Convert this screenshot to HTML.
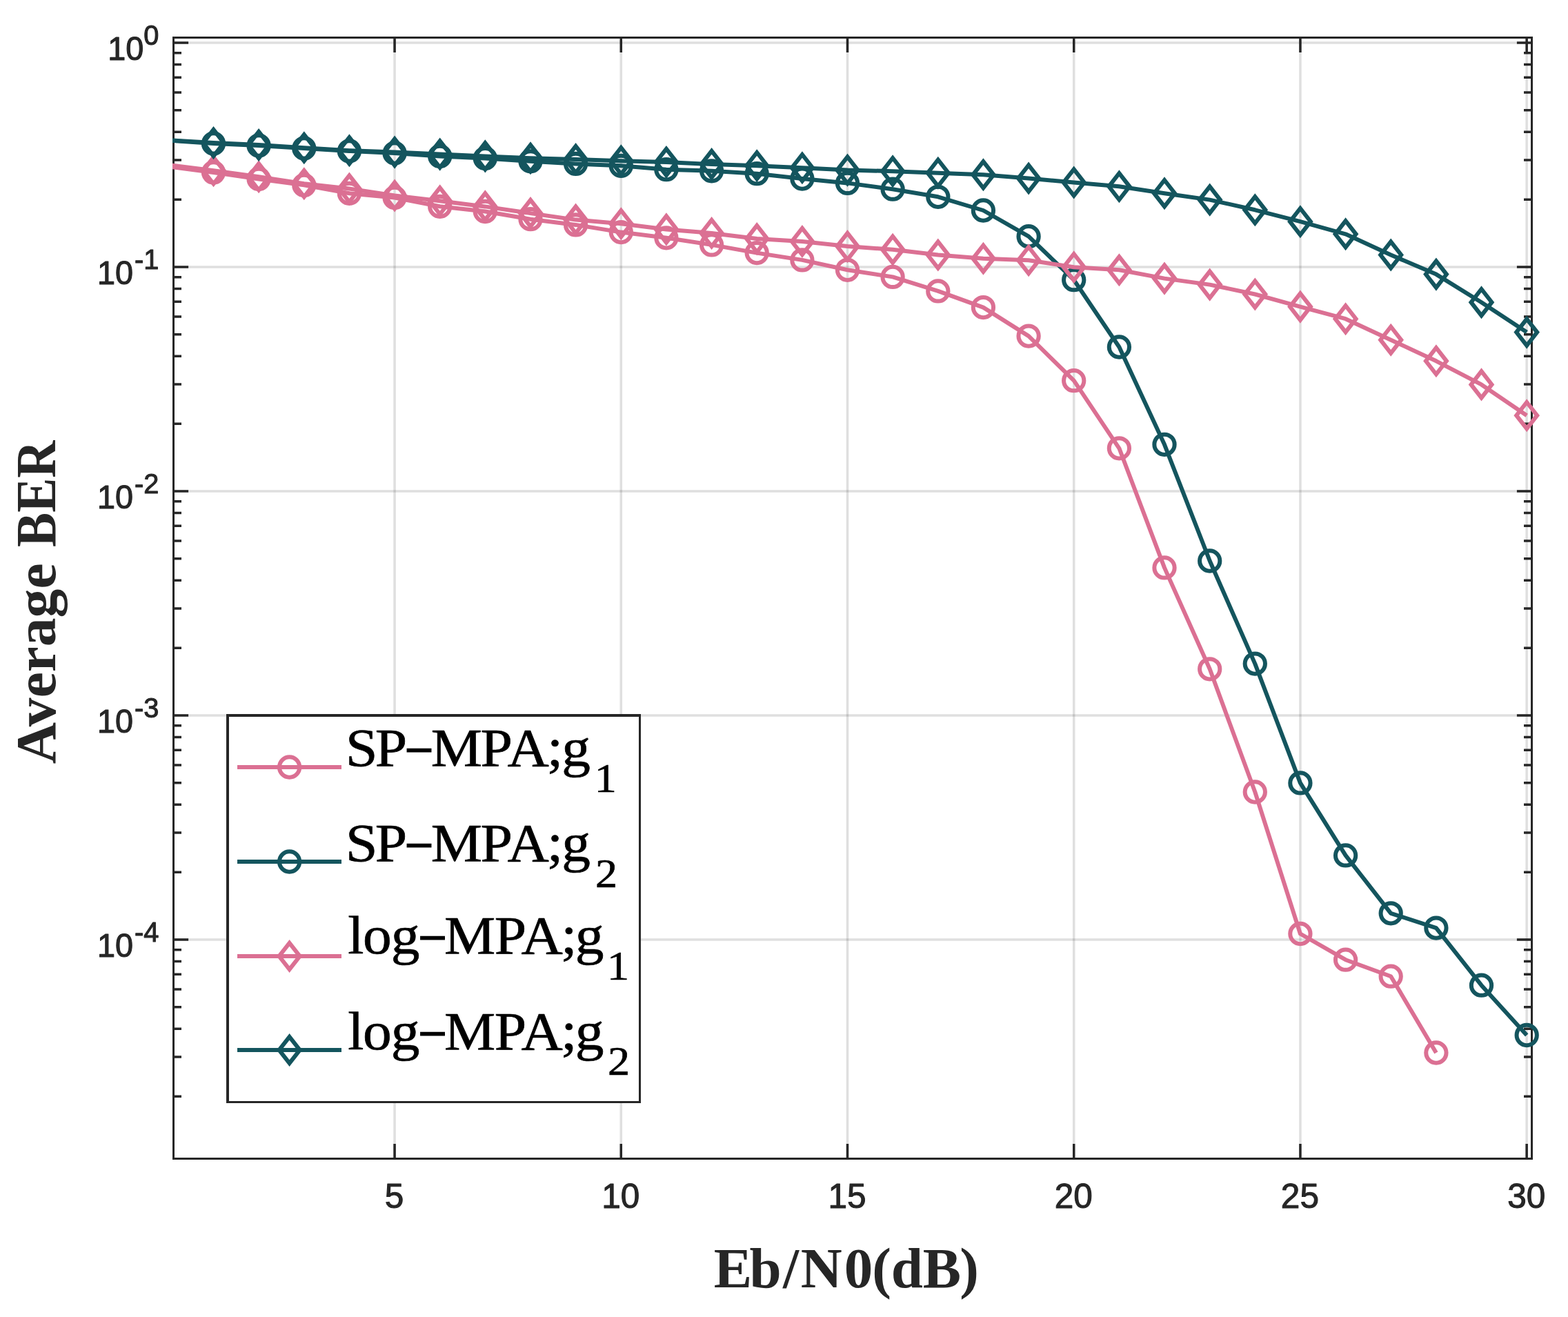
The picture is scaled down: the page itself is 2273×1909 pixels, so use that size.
<!DOCTYPE html>
<html lang="en"><head><meta charset="utf-8"><title>Average BER vs Eb/N0(dB)</title>
<style>html,body{margin:0;padding:0;background:#fff}body{width:2273px;height:1909px;overflow:hidden}svg{display:block}.tk{font-family:"Liberation Sans",Arial,Helvetica,sans-serif;fill:#262626}.lb{font-family:"Liberation Serif","Times New Roman",serif;font-weight:bold;fill:#262626}.lg{font-family:"Liberation Serif","Times New Roman",serif;fill:#000}</style></head><body>
<svg width="2273" height="1909" viewBox="0 0 2273 1909">
<defs><clipPath id="axclip"><rect x="250.0" y="53.0" width="1972.0" height="1628.0"/></clipPath></defs>
<rect width="2273" height="1909" fill="#fff"/>
<g stroke="#262626" stroke-opacity="0.15" stroke-width="3.5" fill="none">
<path d="M572.06 54.50V1679.50"/>
<path d="M900.28 54.50V1679.50"/>
<path d="M1228.50 54.50V1679.50"/>
<path d="M1556.72 54.50V1679.50"/>
<path d="M1884.94 54.50V1679.50"/>
<path d="M2213.16 54.50V1679.50"/>
<path d="M251.50 62.00H2220.50"/>
<path d="M251.50 387.00H2220.50"/>
<path d="M251.50 712.00H2220.50"/>
<path d="M251.50 1037.00H2220.50"/>
<path d="M251.50 1362.00H2220.50"/>
</g>
<rect x="251.5" y="54.5" width="1969.00" height="1625.00" fill="none" stroke="#262626" stroke-width="3.0"/>
<g stroke="#262626" stroke-width="3.5" fill="none">
<path d="M572.06 1679.50v-21.60 M572.06 54.50v21.60"/>
<path d="M900.28 1679.50v-21.60 M900.28 54.50v21.60"/>
<path d="M1228.50 1679.50v-21.60 M1228.50 54.50v21.60"/>
<path d="M1556.72 1679.50v-21.60 M1556.72 54.50v21.60"/>
<path d="M1884.94 1679.50v-21.60 M1884.94 54.50v21.60"/>
<path d="M2213.16 1679.50v-21.60 M2213.16 54.50v21.60"/>
<path d="M251.50 62.00h21.60 M2220.50 62.00h-21.60"/>
<path d="M251.50 387.00h21.60 M2220.50 387.00h-21.60"/>
<path d="M251.50 712.00h21.60 M2220.50 712.00h-21.60"/>
<path d="M251.50 1037.00h21.60 M2220.50 1037.00h-21.60"/>
<path d="M251.50 1362.00h21.60 M2220.50 1362.00h-21.60"/>
<path d="M251.50 289.17h11.50 M2220.50 289.17h-11.50"/>
<path d="M251.50 231.94h11.50 M2220.50 231.94h-11.50"/>
<path d="M251.50 191.33h11.50 M2220.50 191.33h-11.50"/>
<path d="M251.50 159.83h11.50 M2220.50 159.83h-11.50"/>
<path d="M251.50 134.10h11.50 M2220.50 134.10h-11.50"/>
<path d="M251.50 112.34h11.50 M2220.50 112.34h-11.50"/>
<path d="M251.50 93.50h11.50 M2220.50 93.50h-11.50"/>
<path d="M251.50 76.87h11.50 M2220.50 76.87h-11.50"/>
<path d="M251.50 614.17h11.50 M2220.50 614.17h-11.50"/>
<path d="M251.50 556.94h11.50 M2220.50 556.94h-11.50"/>
<path d="M251.50 516.33h11.50 M2220.50 516.33h-11.50"/>
<path d="M251.50 484.83h11.50 M2220.50 484.83h-11.50"/>
<path d="M251.50 459.10h11.50 M2220.50 459.10h-11.50"/>
<path d="M251.50 437.34h11.50 M2220.50 437.34h-11.50"/>
<path d="M251.50 418.50h11.50 M2220.50 418.50h-11.50"/>
<path d="M251.50 401.87h11.50 M2220.50 401.87h-11.50"/>
<path d="M251.50 939.17h11.50 M2220.50 939.17h-11.50"/>
<path d="M251.50 881.94h11.50 M2220.50 881.94h-11.50"/>
<path d="M251.50 841.33h11.50 M2220.50 841.33h-11.50"/>
<path d="M251.50 809.83h11.50 M2220.50 809.83h-11.50"/>
<path d="M251.50 784.10h11.50 M2220.50 784.10h-11.50"/>
<path d="M251.50 762.34h11.50 M2220.50 762.34h-11.50"/>
<path d="M251.50 743.50h11.50 M2220.50 743.50h-11.50"/>
<path d="M251.50 726.87h11.50 M2220.50 726.87h-11.50"/>
<path d="M251.50 1264.17h11.50 M2220.50 1264.17h-11.50"/>
<path d="M251.50 1206.94h11.50 M2220.50 1206.94h-11.50"/>
<path d="M251.50 1166.33h11.50 M2220.50 1166.33h-11.50"/>
<path d="M251.50 1134.83h11.50 M2220.50 1134.83h-11.50"/>
<path d="M251.50 1109.10h11.50 M2220.50 1109.10h-11.50"/>
<path d="M251.50 1087.34h11.50 M2220.50 1087.34h-11.50"/>
<path d="M251.50 1068.50h11.50 M2220.50 1068.50h-11.50"/>
<path d="M251.50 1051.87h11.50 M2220.50 1051.87h-11.50"/>
<path d="M251.50 1589.17h11.50 M2220.50 1589.17h-11.50"/>
<path d="M251.50 1531.94h11.50 M2220.50 1531.94h-11.50"/>
<path d="M251.50 1491.33h11.50 M2220.50 1491.33h-11.50"/>
<path d="M251.50 1459.83h11.50 M2220.50 1459.83h-11.50"/>
<path d="M251.50 1434.10h11.50 M2220.50 1434.10h-11.50"/>
<path d="M251.50 1412.34h11.50 M2220.50 1412.34h-11.50"/>
<path d="M251.50 1393.50h11.50 M2220.50 1393.50h-11.50"/>
<path d="M251.50 1376.87h11.50 M2220.50 1376.87h-11.50"/>
</g>
<path d="M243.8 241.4 L309.5 249.9 L375.1 259.5 L440.8 268.4 L506.4 280.3 L572.1 286.5 L637.7 299.3 L703.3 306.5 L769.0 317.7 L834.6 325.9 L900.3 336.6 L965.9 344.8 L1031.6 354.9 L1097.2 366.6 L1162.9 376.9 L1228.5 391.3 L1294.1 401.4 L1359.8 421.9 L1425.4 445.6 L1491.1 487.1 L1556.7 551.7 L1622.4 649.8 L1688.0 822.9 L1753.7 969.8 L1819.3 1148.0 L1884.9 1353.5 L1950.6 1391.2 L2016.2 1415.2 L2081.9 1526.0" fill="none" stroke="#db7093" stroke-width="6.0" stroke-linejoin="round" clip-path="url(#axclip)"/>
<g fill="none" stroke="#db7093" stroke-width="6.0" stroke-miterlimit="10">
<circle cx="309.5" cy="249.9" r="14.65"/>
<circle cx="375.1" cy="259.5" r="14.65"/>
<circle cx="440.8" cy="268.4" r="14.65"/>
<circle cx="506.4" cy="280.3" r="14.65"/>
<circle cx="572.1" cy="286.5" r="14.65"/>
<circle cx="637.7" cy="299.3" r="14.65"/>
<circle cx="703.3" cy="306.5" r="14.65"/>
<circle cx="769.0" cy="317.7" r="14.65"/>
<circle cx="834.6" cy="325.9" r="14.65"/>
<circle cx="900.3" cy="336.6" r="14.65"/>
<circle cx="965.9" cy="344.8" r="14.65"/>
<circle cx="1031.6" cy="354.9" r="14.65"/>
<circle cx="1097.2" cy="366.6" r="14.65"/>
<circle cx="1162.9" cy="376.9" r="14.65"/>
<circle cx="1228.5" cy="391.3" r="14.65"/>
<circle cx="1294.1" cy="401.4" r="14.65"/>
<circle cx="1359.8" cy="421.9" r="14.65"/>
<circle cx="1425.4" cy="445.6" r="14.65"/>
<circle cx="1491.1" cy="487.1" r="14.65"/>
<circle cx="1556.7" cy="551.7" r="14.65"/>
<circle cx="1622.4" cy="649.8" r="14.65"/>
<circle cx="1688.0" cy="822.9" r="14.65"/>
<circle cx="1753.7" cy="969.8" r="14.65"/>
<circle cx="1819.3" cy="1148.0" r="14.65"/>
<circle cx="1884.9" cy="1353.5" r="14.65"/>
<circle cx="1950.6" cy="1391.2" r="14.65"/>
<circle cx="2016.2" cy="1415.2" r="14.65"/>
<circle cx="2081.9" cy="1526.0" r="14.65"/>
</g>
<path d="M243.8 203.5 L309.5 207.9 L375.1 211.0 L440.8 214.9 L506.4 218.9 L572.1 222.0 L637.7 226.4 L703.3 229.6 L769.0 233.8 L834.6 237.4 L900.3 240.3 L965.9 245.7 L1031.6 247.8 L1097.2 251.7 L1162.9 259.1 L1228.5 265.4 L1294.1 274.2 L1359.8 285.3 L1425.4 305.0 L1491.1 342.7 L1556.7 405.7 L1622.4 503.0 L1688.0 644.3 L1753.7 813.0 L1819.3 962.1 L1884.9 1134.9 L1950.6 1239.9 L2016.2 1323.8 L2081.9 1345.1 L2147.5 1428.2 L2213.2 1500.5" fill="none" stroke="#14555e" stroke-width="6.0" stroke-linejoin="round" clip-path="url(#axclip)"/>
<g fill="none" stroke="#14555e" stroke-width="6.0" stroke-miterlimit="10">
<circle cx="309.5" cy="207.9" r="14.65"/>
<circle cx="375.1" cy="211.0" r="14.65"/>
<circle cx="440.8" cy="214.9" r="14.65"/>
<circle cx="506.4" cy="218.9" r="14.65"/>
<circle cx="572.1" cy="222.0" r="14.65"/>
<circle cx="637.7" cy="226.4" r="14.65"/>
<circle cx="703.3" cy="229.6" r="14.65"/>
<circle cx="769.0" cy="233.8" r="14.65"/>
<circle cx="834.6" cy="237.4" r="14.65"/>
<circle cx="900.3" cy="240.3" r="14.65"/>
<circle cx="965.9" cy="245.7" r="14.65"/>
<circle cx="1031.6" cy="247.8" r="14.65"/>
<circle cx="1097.2" cy="251.7" r="14.65"/>
<circle cx="1162.9" cy="259.1" r="14.65"/>
<circle cx="1228.5" cy="265.4" r="14.65"/>
<circle cx="1294.1" cy="274.2" r="14.65"/>
<circle cx="1359.8" cy="285.3" r="14.65"/>
<circle cx="1425.4" cy="305.0" r="14.65"/>
<circle cx="1491.1" cy="342.7" r="14.65"/>
<circle cx="1556.7" cy="405.7" r="14.65"/>
<circle cx="1622.4" cy="503.0" r="14.65"/>
<circle cx="1688.0" cy="644.3" r="14.65"/>
<circle cx="1753.7" cy="813.0" r="14.65"/>
<circle cx="1819.3" cy="962.1" r="14.65"/>
<circle cx="1884.9" cy="1134.9" r="14.65"/>
<circle cx="1950.6" cy="1239.9" r="14.65"/>
<circle cx="2016.2" cy="1323.8" r="14.65"/>
<circle cx="2081.9" cy="1345.1" r="14.65"/>
<circle cx="2147.5" cy="1428.2" r="14.65"/>
<circle cx="2213.2" cy="1500.5" r="14.65"/>
</g>
<path d="M243.8 239.0 L309.5 247.3 L375.1 256.3 L440.8 266.2 L506.4 273.5 L572.1 283.5 L637.7 291.3 L703.3 299.4 L769.0 309.1 L834.6 318.6 L900.3 324.2 L965.9 332.4 L1031.6 338.0 L1097.2 346.1 L1162.9 350.0 L1228.5 357.1 L1294.1 361.7 L1359.8 369.5 L1425.4 374.7 L1491.1 377.2 L1556.7 387.2 L1622.4 391.3 L1688.0 403.6 L1753.7 412.6 L1819.3 426.5 L1884.9 444.6 L1950.6 462.2 L2016.2 492.7 L2081.9 523.3 L2147.5 557.4 L2213.2 602.2" fill="none" stroke="#db7093" stroke-width="6.0" stroke-linejoin="round" clip-path="url(#axclip)"/>
<g fill="none" stroke="#db7093" stroke-width="6.0" stroke-miterlimit="10">
<path d="M309.5 228.1L324.5 247.3L309.5 266.5L294.5 247.3Z"/>
<path d="M375.1 237.1L390.1 256.3L375.1 275.5L360.1 256.3Z"/>
<path d="M440.8 247.0L455.8 266.2L440.8 285.4L425.8 266.2Z"/>
<path d="M506.4 254.3L521.4 273.5L506.4 292.7L491.4 273.5Z"/>
<path d="M572.1 264.3L587.1 283.5L572.1 302.7L557.1 283.5Z"/>
<path d="M637.7 272.1L652.7 291.3L637.7 310.5L622.7 291.3Z"/>
<path d="M703.3 280.2L718.3 299.4L703.3 318.6L688.3 299.4Z"/>
<path d="M769.0 289.9L784.0 309.1L769.0 328.3L754.0 309.1Z"/>
<path d="M834.6 299.4L849.6 318.6L834.6 337.8L819.6 318.6Z"/>
<path d="M900.3 305.0L915.3 324.2L900.3 343.4L885.3 324.2Z"/>
<path d="M965.9 313.2L980.9 332.4L965.9 351.6L950.9 332.4Z"/>
<path d="M1031.6 318.8L1046.6 338.0L1031.6 357.2L1016.6 338.0Z"/>
<path d="M1097.2 326.9L1112.2 346.1L1097.2 365.3L1082.2 346.1Z"/>
<path d="M1162.9 330.8L1177.9 350.0L1162.9 369.2L1147.9 350.0Z"/>
<path d="M1228.5 337.9L1243.5 357.1L1228.5 376.3L1213.5 357.1Z"/>
<path d="M1294.1 342.5L1309.1 361.7L1294.1 380.9L1279.1 361.7Z"/>
<path d="M1359.8 350.3L1374.8 369.5L1359.8 388.7L1344.8 369.5Z"/>
<path d="M1425.4 355.5L1440.4 374.7L1425.4 393.9L1410.4 374.7Z"/>
<path d="M1491.1 358.0L1506.1 377.2L1491.1 396.4L1476.1 377.2Z"/>
<path d="M1556.7 368.0L1571.7 387.2L1556.7 406.4L1541.7 387.2Z"/>
<path d="M1622.4 372.1L1637.4 391.3L1622.4 410.5L1607.4 391.3Z"/>
<path d="M1688.0 384.4L1703.0 403.6L1688.0 422.8L1673.0 403.6Z"/>
<path d="M1753.7 393.4L1768.7 412.6L1753.7 431.8L1738.7 412.6Z"/>
<path d="M1819.3 407.3L1834.3 426.5L1819.3 445.7L1804.3 426.5Z"/>
<path d="M1884.9 425.4L1899.9 444.6L1884.9 463.8L1869.9 444.6Z"/>
<path d="M1950.6 443.0L1965.6 462.2L1950.6 481.4L1935.6 462.2Z"/>
<path d="M2016.2 473.5L2031.2 492.7L2016.2 511.9L2001.2 492.7Z"/>
<path d="M2081.9 504.1L2096.9 523.3L2081.9 542.5L2066.9 523.3Z"/>
<path d="M2147.5 538.2L2162.5 557.4L2147.5 576.6L2132.5 557.4Z"/>
<path d="M2213.2 583.0L2228.2 602.2L2213.2 621.4L2198.2 602.2Z"/>
</g>
<path d="M243.8 203.0 L309.5 207.1 L375.1 210.1 L440.8 214.2 L506.4 218.2 L572.1 220.6 L637.7 223.6 L703.3 226.4 L769.0 229.3 L834.6 231.1 L900.3 233.2 L965.9 235.0 L1031.6 238.1 L1097.2 240.2 L1162.9 243.2 L1228.5 246.6 L1294.1 248.2 L1359.8 250.7 L1425.4 253.3 L1491.1 258.5 L1556.7 264.5 L1622.4 270.3 L1688.0 280.2 L1753.7 289.6 L1819.3 304.3 L1884.9 321.2 L1950.6 339.3 L2016.2 369.5 L2081.9 397.6 L2147.5 438.2 L2213.2 481.6" fill="none" stroke="#14555e" stroke-width="6.0" stroke-linejoin="round" clip-path="url(#axclip)"/>
<g fill="none" stroke="#14555e" stroke-width="6.0" stroke-miterlimit="10">
<path d="M309.5 187.9L324.5 207.1L309.5 226.3L294.5 207.1Z"/>
<path d="M375.1 190.9L390.1 210.1L375.1 229.3L360.1 210.1Z"/>
<path d="M440.8 195.0L455.8 214.2L440.8 233.4L425.8 214.2Z"/>
<path d="M506.4 199.0L521.4 218.2L506.4 237.4L491.4 218.2Z"/>
<path d="M572.1 201.4L587.1 220.6L572.1 239.8L557.1 220.6Z"/>
<path d="M637.7 204.4L652.7 223.6L637.7 242.8L622.7 223.6Z"/>
<path d="M703.3 207.2L718.3 226.4L703.3 245.6L688.3 226.4Z"/>
<path d="M769.0 210.1L784.0 229.3L769.0 248.5L754.0 229.3Z"/>
<path d="M834.6 211.9L849.6 231.1L834.6 250.3L819.6 231.1Z"/>
<path d="M900.3 214.0L915.3 233.2L900.3 252.4L885.3 233.2Z"/>
<path d="M965.9 215.8L980.9 235.0L965.9 254.2L950.9 235.0Z"/>
<path d="M1031.6 218.9L1046.6 238.1L1031.6 257.3L1016.6 238.1Z"/>
<path d="M1097.2 221.0L1112.2 240.2L1097.2 259.4L1082.2 240.2Z"/>
<path d="M1162.9 224.0L1177.9 243.2L1162.9 262.4L1147.9 243.2Z"/>
<path d="M1228.5 227.4L1243.5 246.6L1228.5 265.8L1213.5 246.6Z"/>
<path d="M1294.1 229.0L1309.1 248.2L1294.1 267.4L1279.1 248.2Z"/>
<path d="M1359.8 231.5L1374.8 250.7L1359.8 269.9L1344.8 250.7Z"/>
<path d="M1425.4 234.1L1440.4 253.3L1425.4 272.5L1410.4 253.3Z"/>
<path d="M1491.1 239.3L1506.1 258.5L1491.1 277.7L1476.1 258.5Z"/>
<path d="M1556.7 245.3L1571.7 264.5L1556.7 283.7L1541.7 264.5Z"/>
<path d="M1622.4 251.1L1637.4 270.3L1622.4 289.5L1607.4 270.3Z"/>
<path d="M1688.0 261.0L1703.0 280.2L1688.0 299.4L1673.0 280.2Z"/>
<path d="M1753.7 270.4L1768.7 289.6L1753.7 308.8L1738.7 289.6Z"/>
<path d="M1819.3 285.1L1834.3 304.3L1819.3 323.5L1804.3 304.3Z"/>
<path d="M1884.9 302.0L1899.9 321.2L1884.9 340.4L1869.9 321.2Z"/>
<path d="M1950.6 320.1L1965.6 339.3L1950.6 358.5L1935.6 339.3Z"/>
<path d="M2016.2 350.3L2031.2 369.5L2016.2 388.7L2001.2 369.5Z"/>
<path d="M2081.9 378.4L2096.9 397.6L2081.9 416.8L2066.9 397.6Z"/>
<path d="M2147.5 419.0L2162.5 438.2L2147.5 457.4L2132.5 438.2Z"/>
<path d="M2213.2 462.4L2228.2 481.6L2213.2 500.8L2198.2 481.6Z"/>
</g>
<rect x="328" y="1035" width="601" height="564" fill="#262626"/>
<rect x="332" y="1039" width="594" height="557" fill="#fff"/>
<g fill="none" stroke="#db7093" stroke-width="6.0" stroke-miterlimit="10"><path d="M344 1112.0H495"/><circle cx="419.6" cy="1112.0" r="14.65"/></g>
<text class="lg" stroke="#000" stroke-width="0.7" transform="matrix(1.07 0 0 1 0 0)" x="468.2 508.2 549.1 583.9 651.0 687.5 741.2 761.0" y="1110.0" font-size="78">SP<tspan font-size="67" stroke-width="2.4">−</tspan>MPA;g<tspan font-size="60" x="805.4" dy="37.7">1</tspan></text>
<g fill="none" stroke="#14555e" stroke-width="6.0" stroke-miterlimit="10"><path d="M344 1249.0H495"/><circle cx="419.6" cy="1249.0" r="14.65"/></g>
<text class="lg" stroke="#000" stroke-width="0.7" transform="matrix(1.07 0 0 1 0 0)" x="468.2 508.2 549.1 583.9 651.0 687.5 741.2 761.0" y="1248.1" font-size="78">SP<tspan font-size="67" stroke-width="2.4">−</tspan>MPA;g<tspan font-size="60" x="806.6" dy="37.7">2</tspan></text>
<g fill="none" stroke="#db7093" stroke-width="6.0" stroke-miterlimit="10"><path d="M344 1386.0H495"/><path d="M419.6 1366.8L434.6 1386.0L419.6 1405.2L404.6 1386.0Z"/></g>
<text class="lg" stroke="#000" stroke-width="0.7" transform="matrix(1.07 0 0 1 0 0)" x="471.2 491.5 529.7 567.4 601.8 669.8 706.1 760.1 779.1" y="1382.5" font-size="78">log<tspan font-size="67" stroke-width="2.4">−</tspan>MPA;g<tspan font-size="60" x="822.4" dy="37.7">1</tspan></text>
<g fill="none" stroke="#14555e" stroke-width="6.0" stroke-miterlimit="10"><path d="M344 1522.0H495"/><path d="M419.6 1502.8L434.6 1522.0L419.6 1541.2L404.6 1522.0Z"/></g>
<text class="lg" stroke="#000" stroke-width="0.7" transform="matrix(1.07 0 0 1 0 0)" x="471.2 491.5 529.7 567.4 601.8 669.8 706.1 760.1 779.1" y="1520.7" font-size="78">log<tspan font-size="67" stroke-width="2.4">−</tspan>MPA;g<tspan font-size="60" x="823.3" dy="37.7">2</tspan></text>
<g class="tk" stroke="#262626" stroke-width="1.1" stroke-linejoin="round">
<text x="571.6" y="1750.6" font-size="49.5" text-anchor="middle">5</text>
<text x="899.8" y="1750.6" font-size="49.5" text-anchor="middle">10</text>
<text x="1228.0" y="1750.6" font-size="49.5" text-anchor="middle">15</text>
<text x="1556.2" y="1750.6" font-size="49.5" text-anchor="middle">20</text>
<text x="1884.4" y="1750.6" font-size="49.5" text-anchor="middle">25</text>
<text x="2212.7" y="1750.6" font-size="49.5" text-anchor="middle">30</text>
<text transform="matrix(0.97 0 0 1 0 0)" text-anchor="end" font-size="48.3"><tspan x="214.8" y="86.7">10</tspan><tspan x="237.6" y="64.8" font-size="41">0</tspan></text>
<text transform="matrix(0.97 0 0 1 0 0)" text-anchor="end" font-size="48.3"><tspan x="199.0" y="411.7">10</tspan><tspan x="237.6" y="389.8" font-size="41">-1</tspan></text>
<text transform="matrix(0.97 0 0 1 0 0)" text-anchor="end" font-size="48.3"><tspan x="199.0" y="736.7">10</tspan><tspan x="237.6" y="714.8" font-size="41">-2</tspan></text>
<text transform="matrix(0.97 0 0 1 0 0)" text-anchor="end" font-size="48.3"><tspan x="199.0" y="1061.7">10</tspan><tspan x="237.6" y="1039.8" font-size="41">-3</tspan></text>
<text transform="matrix(0.97 0 0 1 0 0)" text-anchor="end" font-size="48.3"><tspan x="199.0" y="1386.7">10</tspan><tspan x="237.6" y="1364.8" font-size="41">-4</tspan></text>
</g>
<text class="lb" x="1034.7 1086.4 1134.9 1160.8 1223.8 1264.2 1291.7 1337.8 1391.2" y="1866" font-size="83">Eb/N0(dB)</text>
<text class="lb" transform="translate(80.1 1106.5) rotate(-90)" font-size="83"><tspan x="-0.8" textLength="290.8" lengthAdjust="spacingAndGlyphs">Average</tspan> <tspan x="313.6" textLength="154.4" lengthAdjust="spacingAndGlyphs">BER</tspan></text>
</svg></body></html>
